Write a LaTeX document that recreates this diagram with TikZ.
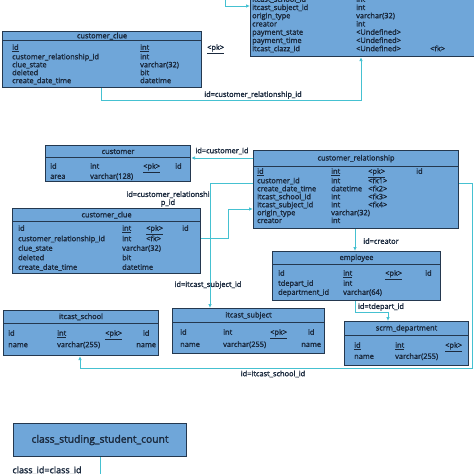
\documentclass[tikz,border=0pt]{standalone}
\usepackage{fontspec}
\usepackage{array}
\setmainfont{Open Sans}[UprightFeatures={FakeBold=2}]
\usetikzlibrary{arrows.meta,positioning}

\definecolor{tblfill}{HTML}{6FA6D9}
\definecolor{tblline}{HTML}{24384F}
\definecolor{ink}{HTML}{1B2A3E}
\definecolor{link}{HTML}{45C1D1}

\tikzset{
  tbl/.style={draw=tblline, fill=tblfill, line width=1.1pt, inner sep=0pt,
              anchor=north west},
  hdr/.style={tbl, font=\fontsize{7.4}{8}\selectfont, text=ink},
  rows/.style={inner sep=0pt, anchor=north west,
               font=\fontsize{7.4}{8}\selectfont, text=ink},
  fk/.style={draw=link, line width=0.9pt, -{Latex[length=4pt,width=3.6pt]}},
  lbl/.style={inner sep=1pt, font=\fontsize{7.4}{8}\selectfont, text=ink},
}

\begin{document}
\begin{tikzpicture}[x=1pt, y=-1pt]
  \useasboundingbox (0,0) rectangle (474,474);
  \clip (0,0) rectangle (474,474);

  % top part: cut-off relationship table and clue table
  \node[tbl, minimum width=226, minimum height=90] (crelAb) at (250,-34) {};
  \node[rows] (crelAr) at (252,-4.2) {\def\arraystretch{1.03}%
    \begin{tabular}{@{}w{l}{104pt}@{}w{l}{74pt}@{}l@{}}
      itcast\_school\_id & int & \\
      itcast\_subject\_id & int & \\
      origin\_type & varchar(32) & \\
      creator & int & \\
      payment\_state & <Undefined> & \\
      payment\_time & <Undefined> & \\
      itcast\_clazz\_id & <Undefined> & <fk> \\
    \end{tabular}};

  \node[hdr, minimum width=199, minimum height=9] (clueAh) at (2,31) {customer\_clue};
  \node[tbl, minimum width=199, minimum height=47] (clueAb) at (2,40) {};
  \node[rows] (clueAr) at (12,44.1) {\def\arraystretch{0.97}%
    \begin{tabular}{@{}w{l}{128pt}@{}w{l}{67pt}@{}l@{}}
      \underline{id} & \underline{int} & \underline{<pk>} \\
      customer\_relationship\_id & int & \\
      clue\_state & varchar(32) & \\
      deleted & bit & \\
      create\_date\_time & datetime & \\
    \end{tabular}};

  \coordinate (topin) at (225,-5);
  \draw[fk] (topin) |- (crelAb.west |- 0,6);
  \draw[fk] (clueAb.south -| 101,0) -- ++(0,12) -| (crelAb.south -| 361,0);
  \node[lbl] (lclueA) at (253,95) {id=customer\_relationship\_id};

  % middle part
  \node[hdr, minimum width=145, minimum height=12] (custh) at (45,145) {customer};
  \node[tbl, minimum width=145, minimum height=24] (custb) at (45,157) {};
  \node[rows] (custr) at (50,162.2) {\def\arraystretch{1.125}%
    \begin{tabular}{@{}w{l}{40pt}@{}w{l}{53pt}@{}w{l}{32pt}@{}l@{}}
      id & int & \underline{<pk>} & id \\
      area & varchar(128) & & \\
    \end{tabular}};

  \node[hdr, minimum width=205, minimum height=16] (crelh) at (253,150) {customer\_relationship};
  \node[tbl, minimum width=205, minimum height=62] (crelb) at (253,166) {};
  \node[rows] (crelr) at (257,168) {\def\arraystretch{0.975}%
    \begin{tabular}{@{}w{l}{74pt}@{}w{l}{37pt}@{}w{l}{48pt}@{}l@{}}
      \underline{id} & \underline{int} & \underline{<pk>} & id \\
      customer\_id & int & <fk1> & \\
      create\_date\_time & datetime & <fk2> & \\
      itcast\_school\_id & int & <fk3> & \\
      itcast\_subject\_id & int & <fk4> & \\
      origin\_type & varchar(32) & & \\
      creator & int & & \\
    \end{tabular}};

  \node[hdr, minimum width=188, minimum height=13] (clueBh) at (12,208) {customer\_clue};
  \node[tbl, minimum width=188, minimum height=52] (clueBb) at (12,221) {};
  \node[rows] (clueBr) at (18,223.9) {\def\arraystretch{1.19}%
    \begin{tabular}{@{}w{l}{104pt}@{}w{l}{24pt}@{}w{l}{36pt}@{}l@{}}
      id & \underline{int} & \underline{<pk>} & id \\
      customer\_relationship\_id & int & <fk> & \\
      clue\_state & varchar(32) & & \\
      deleted & bit & & \\
      create\_date\_time & datetime & & \\
    \end{tabular}};

  \node[hdr, minimum width=168, minimum height=13] (emph) at (272,251) {employee};
  \node[tbl, minimum width=168, minimum height=36] (empb) at (272,264) {};
  \node[rows] (empr) at (278,269.2) {\def\arraystretch{1.125}%
    \begin{tabular}{@{}w{l}{65pt}@{}w{l}{42pt}@{}w{l}{40pt}@{}l@{}}
      id & \underline{int} & \underline{<pk>} & id \\
      tdepart\_id & int & & \\
      department\_id & varchar(64) & & \\
    \end{tabular}};

  \node[hdr, minimum width=124, minimum height=14] (scrmh) at (344,321) {scrm\_department};
  \node[tbl, minimum width=124, minimum height=30] (scrmb) at (344,335) {};
  \node[rows] (scrmr) at (354,340.2) {\def\arraystretch{1.31}%
    \begin{tabular}{@{}w{l}{41pt}@{}w{l}{50pt}@{}l@{}}
      \underline{id} & \underline{int} & \underline{<pk>} \\
      name & varchar(255) & \\
    \end{tabular}};

  \node[hdr, minimum width=155, minimum height=12.5] (schoolh) at (3,310) {itcast\_school};
  \node[tbl, minimum width=155, minimum height=32.5] (schoolb) at (3,322.5) {};
  \node[rows] (schoolr) at (8,327.8) {\def\arraystretch{1.375}%
    \begin{tabular}{@{}w{l}{49pt}@{}w{l}{48pt}@{}w{l}{25pt}@{}w{c}{32pt}@{}}
      id & \underline{int} & \underline{<pk>} & id \\
      name & varchar(255) & & name \\
    \end{tabular}};

  \node[hdr, minimum width=152, minimum height=14] (subjh) at (172,308) {itcast\_subject};
  \node[tbl, minimum width=152, minimum height=31] (subjb) at (172,322) {};
  \node[rows] (subjr) at (180,326.1) {\def\arraystretch{1.5}%
    \begin{tabular}{@{}w{l}{43pt}@{}w{l}{47pt}@{}w{l}{26pt}@{}w{c}{30pt}@{}}
      id & int & \underline{<pk>} & id \\
      name & varchar(255) & & name \\
    \end{tabular}};

  % references
  \draw[fk] (crelh.west |- 0,158) -- (custb.east |- 0,158);
  \node[lbl] (lcust) at (222,151) {id=customer\_id};

  \draw[fk] (clueBb.east |- 0,238) -- ++(27,0) |- (crelb.west |- 0,209);
  \node[lbl, align=center] (lclueB) at (168,199) {id=customer\_relationshi\\p\_id};

  \draw[fk] (crelb.west |- 0,183) -| (subjh.north -| 210,0);
  \node[lbl] (lsubj) at (208,285) {id=itcast\_subject\_id};

  \draw[fk] (crelb.south -| 355,0) -- (emph.north -| 355,0);
  \node[lbl] (lemp) at (381,241) {id=creator};

  \draw[fk] (empb.south -| 355,0) -- ++(0,11) -| (scrmh.north -| 388,0);
  \node[lbl] (lscrm) at (381,307) {id=tdepart\_id};

  \coordinate (rcorner) at (472,368);
  \draw[fk] (crelb.east |- 0,183) -| (rcorner) -| (schoolb.south -| 80,0);
  \node[lbl] (lschool) at (273,374) {id=itcast\_school\_id};

  % bottom part
  \node[tbl, minimum width=173, minimum height=33, text=ink,
        font=\fontsize{10.3}{12}\selectfont] (countbox) at (13,423)
        {class\_studing\_student\_count};
  \coordinate (countout) at (100,480);
  \draw[draw=link, line width=0.9pt] (countbox.south -| 100,0) -- (countout);
  \node[lbl, font=\fontsize{9}{10}\selectfont] (lcount) at (47,470.5) {class\_id=class\_id};
\end{tikzpicture}
\end{document}
